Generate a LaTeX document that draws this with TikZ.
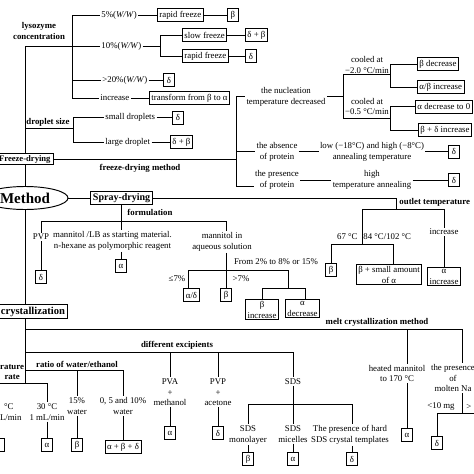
\documentclass[tikz,border=0pt]{standalone}
\usepackage{fontspec}
\setmainfont{Liberation Serif}
\usetikzlibrary{shapes.geometric}
\newcommand{\fsz}{\fontsize{8.8}{10.8}\selectfont}
\newcommand{\fbig}{\fontsize{10}{12}\selectfont}
\tikzset{
  bx/.style={draw,inner xsep=2pt,inner ysep=1.6pt,minimum width=11pt,minimum height=13pt,align=center,font=\fsz},
  tx/.style={inner sep=1pt,align=center,font=\fsz},
  lb/.style={inner sep=1pt,align=center,font=\fsz\bfseries},
  hd/.style={draw,inner xsep=2.5pt,inner ysep=2pt,font=\fbig\bfseries},
}

\begin{document}
\begin{tikzpicture}[x=1pt,y=-1pt,line width=0.95pt]
  \useasboundingbox (0,0) rectangle (474,474);
  \clip (0,0) rectangle (474,474);
  \coordinate (t0) at (25,0);
  \node[hd,anchor=east,text width=70pt,align=right,inner ysep=1.5pt,font=\fontsize{8.6}{10}\selectfont\bfseries] (fd) at (53.5,159) {Freeze-drying};
  \node[draw,ellipse,inner sep=0pt,minimum width=86pt,minimum height=23pt,font=\fontsize{15}{15}\selectfont\bfseries] (ml) at (25,198) {Method};
  \node[hd,anchor=west] (sd) at (90,198) {Spray-drying};
  \node[hd,anchor=east,text width=80pt,align=right,font=\fontsize{10.6}{12}\selectfont\bfseries] (cl) at (68,311.5) {crystallization};
  \draw (t0 |- fd.south) -- (t0 |- ml.north);
  \draw (t0 |- ml.south) -- (t0 |- cl.north);
  \draw (ml.east) -- (sd.west);

  % freeze-drying
  \node[lb] (lyso) at (39,31) {lysozyme\\concentration};
  \coordinate (j1) at (72,46);
  \node[tx,anchor=west] (c5) at (100,15) {5\%(\textit{W/W})};
  \node[bx,anchor=west] (rf1) at (157,15) {rapid freeze};
  \node[bx,anchor=west] (b1) at (227,15) {β};
  \node[tx,anchor=west] (c10) at (100,46) {10\%(\textit{W/W})};
  \coordinate (j2) at (160,46);
  \node[bx,anchor=west] (sf) at (182,35) {slow freeze};
  \node[bx,anchor=west] (rf2) at (182,56) {rapid freeze};
  \node[bx,anchor=west] (db1) at (245,35) {δ + β};
  \node[bx,anchor=west] (d1) at (245,56) {δ};
  \node[tx,anchor=west] (c20) at (101,80) {>20\%(\textit{W/W})};
  \node[bx,anchor=west] (d2) at (163,80) {δ};
  \node[tx,anchor=west] (inc1) at (99,98) {increase};
  \node[bx,anchor=west] (tf) at (149,98) {transform from β to α};
  \draw (t0 |- fd.north) -- (t0 |- j1) -- (j1);
  \draw (j1 |- c5.west) -- (j1 |- inc1.west);
  \draw (j1 |- c5.west) -- (c5.west) (c5.east) -- (rf1.west) (rf1.east) -- (b1.west);
  \draw (j1) -- (c10.west) (c10.east) -- (j2);
  \draw (j2 |- sf.west) -- (j2 |- rf2.west);
  \draw (j2 |- sf.west) -- (sf.west) (sf.east) -- (db1.west);
  \draw (j2 |- rf2.west) -- (rf2.west) (rf2.east) -- (d1.west);
  \draw (j1 |- c20.west) -- (c20.west) (c20.east) -- (d2.west);
  \draw (j1 |- inc1.west) -- (inc1.west) (inc1.east) -- (tf.west);

  \node[lb] (drs) at (48,122) {droplet size};
  \coordinate (j3) at (73,128);
  \node[tx,anchor=west] (sdr) at (104,117.5) {small droplets};
  \node[bx,anchor=west] (d3) at (172,117.5) {δ};
  \node[tx,anchor=west] (ldr) at (104,142) {large droplet};
  \node[bx,anchor=west] (db2) at (170,142) {δ + β};
  \draw (t0 |- j3) -- (j3);
  \draw (j3 |- sdr.west) -- (j3 |- ldr.west);
  \draw (j3 |- sdr.west) -- (sdr.west) (sdr.east) -- (d3.west);
  \draw (j3 |- ldr.west) -- (ldr.west) (ldr.east) -- (db2.west);

  \node[lb] (fdm) at (140,168) {freeze-drying method};
  \coordinate (j4) at (236,159);
  \coordinate (j5) at (236,186);
  \draw (fd.east) -- (j4);
  \node[tx] (nuc) at (286,96.5) {the nucleation\\temperature decreased};
  \coordinate (j6) at (343,96.5);
  \draw (j4 |- nuc.west) -- (nuc.west) (nuc.east) -- (j6);
  \coordinate (j7) at (343,74);
  \coordinate (j8) at (390,74);
  \node[tx] (c2) at (367,65) {cooled at\\−2.0 °C/min};
  \node[bx,anchor=west] (bdc) at (417,64) {β decrease};
  \node[bx,anchor=west] (abi) at (417,87) {α/β increase};
  \draw (j7) -- (j8);
  \draw (j8 |- bdc.west) -- (j8 |- abi.west);
  \draw (j8 |- bdc.west) -- (bdc.west) (j8 |- abi.west) -- (abi.west);
  \node[tx] (c05) at (367,106.5) {cooled at\\−0.5 °C/min};
  \coordinate (j9) at (343,118);
  \coordinate (j10) at (390,118);
  \node[bx,anchor=west] (adz) at (415,106.5) {α decrease to 0};
  \node[bx,anchor=west] (bdi) at (418,130) {β + δ increase};
  \draw (j7) -- (j9) -- (j10);
  \draw (j10 |- adz.west) -- (j10 |- bdi.west);
  \draw (j10 |- adz.west) -- (adz.west) (j10 |- bdi.west) -- (bdi.west);

  \node[tx] (abs) at (277,151.5) {the absence\\of protein};
  \node[tx] (lh) at (372,151.5) {low (−18°C) and high (−8°C)\\annealing temperature};
  \node[bx,anchor=west] (d4) at (448,151.5) {δ};
  \draw (j4 |- abs.west) -- (abs.west) (abs.east) -- (lh.west) (lh.east) -- (d4.west);
  \node[tx] (prs) at (277,180) {the presence\\of protein};
  \node[tx] (hta) at (372,180) {high\\temperature annealing};
  \node[bx,anchor=west] (d5) at (448,180) {δ};
  \draw (j4 |- nuc.west) -- (j5) -- (j5 -| prs.west);
  \draw (prs.east) -- (hta.west) (hta.east) -- (d5.west);

  % spray-drying
  \coordinate (j11) at (396,198);
  \coordinate (j12) at (396,209);
  \draw (sd.east) -- (j11) -- (j12);
  \node[lb,anchor=west] (otl) at (398,202.5) {outlet temperature};
  \coordinate (j13) at (362,209);
  \coordinate (j14) at (444,209);
  \draw (j13) -- (j14);
  \node[tx,anchor=east] (t67) at (359,237) {67 °C};
  \node[tx,anchor=west] (t84) at (362,237) {84 °C/102 °C};
  \coordinate (j15) at (362,244);
  \coordinate (j16) at (331,244);
  \coordinate (j17) at (393,244);
  \draw (j13) -- (j15) (j16) -- (j17);
  \node[bx,anchor=north] (b2) at (331,263) {β};
  \node[bx,anchor=north] (bsm) at (389,264) {β + small amount\\of α};
  \draw (j16) -- (b2.north) (j17) -- (j17 |- bsm.north);
  \node[tx] (inc2) at (444,232) {increase};
  \node[bx,anchor=north] (ain) at (444,267) {α\\increase};
  \draw (j14) -- (inc2.north) (inc2.south) -- (ain.north);

  \node[lb,anchor=west] (frm) at (126,212) {formulation};
  \coordinate (j18) at (121,221);
  \coordinate (j19) at (41,221);
  \coordinate (j20) at (226,221);
  \draw (j18 |- sd.south) -- (j18) (j19) -- (j20);
  \node[tx] (pv1) at (41,237) {PVP};
  \node[bx,anchor=north] (d6) at (41,270) {δ};
  \draw (j19) -- (pv1.north) (pv1.south) -- (d6.north);
  \node[tx] (mlb) at (112.5,241) {mannitol /LB as starting material.\\n-hexane as polymorphic reagent};
  \node[bx,anchor=north] (a1) at (121,259) {α};
  \draw (j18) -- (j18 |- mlb.north) (j18 |- mlb.south) -- (a1.north);
  \node[tx] (maq) at (222,242) {mannitol in\\aqueous solution};
  \node[bx,anchor=north] (b3) at (226,288) {β};
  \draw (j20) -- (j20 |- maq.north) (j20 |- maq.south) -- (b3.north);
  \coordinate (j21) at (188,270);
  \coordinate (j22) at (288,270);
  \draw (j21) -- (j22);
  \node[tx] (le7) at (177,279) {≤7\%};
  \node[tx] (gt7) at (241,279) {>7\%};
  \node[bx,anchor=north] (ad) at (191.5,288) {α/δ};
  \draw (j21) -- (j21 |- ad.north);
  \node[tx] (f2) at (276,262) {From 2\% to 8\% or 15\%};
  \coordinate (j23) at (288,288);
  \coordinate (j24) at (262,288);
  \coordinate (j25) at (305,288);
  \draw (j22) -- (j23) (j24) -- (j25);
  \node[bx,anchor=north] (bi) at (262,299) {β\\increase};
  \node[bx,anchor=north] (ade) at (302.5,299) {α\\decrease};
  \draw (j24) -- (bi.north) (j25) -- (j25 |- ade.north);

  % crystallization
  \coordinate (j26) at (25,329);
  \coordinate (j27) at (462,329);
  \coordinate (j40) at (25,383);
  \draw (t0 |- cl.south) -- (j40) (j26) -- (j27);
  \node[lb,anchor=south] (mcm) at (377,328) {melt crystallization method};
  \coordinate (j29) at (407,329);
  \node[tx] (hmt) at (397,373.5) {heated mannitol\\to 170 °C};
  \node[bx,anchor=north] (a2) at (407,428) {α};
  \draw (j29) -- (j29 |- hmt.north) (j29 |- hmt.south) -- (a2.north);
  \node[tx] (pmn) at (453,378) {the presence\\of\\molten Na};
  \coordinate (j30) at (462,413);
  \coordinate (j31) at (437,413);
  \coordinate (j32) at (474,413);
  \draw (j27) -- (j27 |- pmn.north) (j27 |- pmn.south) -- (j30) (j31) -- (j32);
  \node[tx] (lt10) at (441,407) {<10 mg};
  \node[tx,anchor=west] (gt10) at (465,407) {>};
  \node[bx,anchor=north] (d7) at (437,436) {δ};
  \draw (j31) -- (d7.north);

  \coordinate (j33) at (25,352);
  \coordinate (j34) at (293,352);
  \draw (j33) -- (j34);
  \node[lb,anchor=south] (dex) at (177,351) {different excipients};
  \node[tx,anchor=north] (pva) at (170,377) {PVA\\+\\methanol};
  \node[bx,anchor=north] (a3) at (170,426) {α};
  \draw (j33 -| pva.north) -- (pva.north) (pva.south) -- (a3.north);
  \node[tx,anchor=north] (pv2) at (218,377) {PVP\\+\\acetone};
  \node[bx,anchor=north] (d8) at (218,426) {δ};
  \draw (j33 -| pv2.north) -- (pv2.north) (pv2.south) -- (d8.north);
  \node[tx,anchor=north] (sds) at (293,377) {SDS};
  \coordinate (j35) at (293,404);
  \coordinate (j36) at (248,404);
  \coordinate (j37) at (352,404);
  \draw (j34) -- (sds.north) (sds.south) -- (j35) (j36) -- (j37);
  \node[tx,anchor=north] (sml) at (248,424) {SDS\\monolayer};
  \node[tx,anchor=north] (smc) at (293,424) {SDS\\micelles};
  \node[tx,anchor=north] (hst) at (350,424) {The presence of hard\\SDS crystal templates};
  \node[bx,anchor=north] (b4) at (248,452) {β};
  \node[bx,anchor=north] (a4) at (293,452) {α};
  \node[bx,anchor=north] (d9) at (352,452) {δ};
  \draw (j36) -- (sml.north) (sml.south) -- (b4.north);
  \draw (j35) -- (smc.north) (smc.south) -- (a4.north);
  \draw (j37) -- (j37 |- hst.north) (j37 |- hst.south) -- (d9.north);

  \coordinate (j38) at (25,370);
  \coordinate (j39) at (123,370);
  \draw (j38) -- (j39);
  \node[lb,anchor=south] (rwe) at (77,369) {ratio of water/ethanol};
  \node[tx,anchor=north] (w15) at (77,396) {15\%\\water};
  \node[bx,anchor=north] (b5) at (77,438) {β};
  \draw (j38 -| w15.north) -- (w15.north) (w15.south) -- (b5.north);
  \node[tx,anchor=north] (w0) at (123,396) {0, 5 and 10\%\\water};
  \node[bx,anchor=north] (abd) at (123,440) {α + β + δ};
  \draw (j39) -- (w0.north) (w0.south) -- (abd.north);

  \node[lb,anchor=east] (trt) at (25.5,372) {rature\\rate};
  \coordinate (j41) at (47,383);
  \coordinate (j42) at (0,383);
  \draw (j42) -- (j41);
  \node[tx,anchor=north] (t30) at (47,402) {30 °C\\1 mL/min};
  \node[bx,anchor=north] (a5) at (47,438) {α};
  \draw (j41) -- (t30.north) (t30.south) -- (a5.north);
  \node[tx,anchor=north east,align=right] (tlf) at (23,402) {°C\hspace*{8pt}\\L/min};
  \node[bx,anchor=north east] (lfb) at (4.5,438) {\phantom{α}};
\end{tikzpicture}
\end{document}
